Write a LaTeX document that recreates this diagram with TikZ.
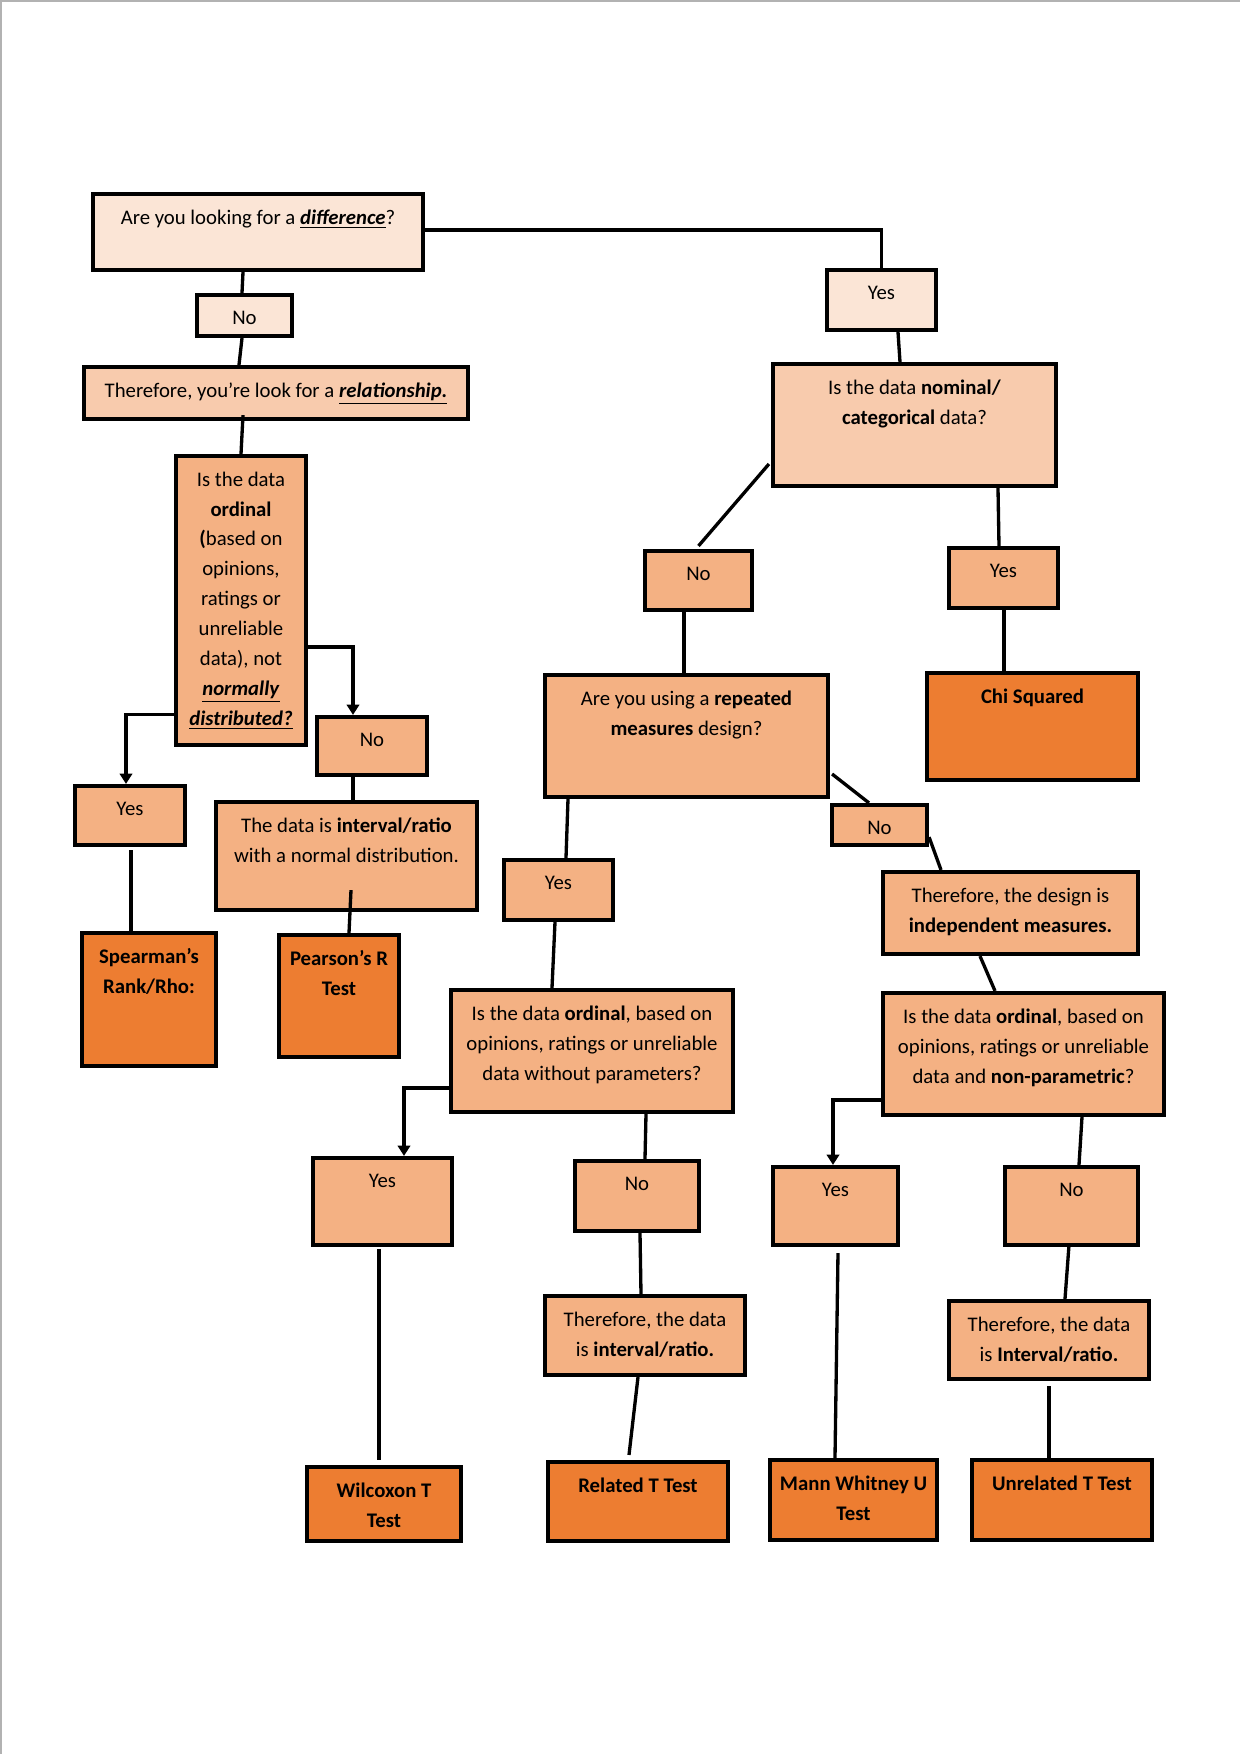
\documentclass[tikz,border=0pt]{standalone}
\usepackage{fontspec}
\setmainfont{Carlito}
\usepackage{xcolor}
\usetikzlibrary{arrows.meta,calc,fit}
\definecolor{peachA}{HTML}{FBE5D6}
\definecolor{peachB}{HTML}{F8CBAD}
\definecolor{peachC}{HTML}{F4B183}
\definecolor{orangeD}{HTML}{ED7D31}
\newcommand{\boxfont}{\fontsize{10}{14.4}\selectfont}
\newcommand{\keyword}[1]{\underline{\textbf{\textit{#1}}}}
\tikzset{
  every node/.style={font=\boxfont},
  qbox/.style={draw, rectangle, line width=2pt, inner sep=0pt},
  boxA/.style={qbox, fill=peachA},
  boxB/.style={qbox, fill=peachB},
  boxC/.style={qbox, fill=peachC},
  testbox/.style={qbox, fill=orangeD},
  txt/.style={anchor=north, align=center, inner sep=0pt, yshift=-8.4pt},
  testtxt/.style={txt, font=\boxfont\bfseries}
}

\begin{document}
\begin{tikzpicture}[
    x=0.16933mm, y=-0.16933mm, % one unit = one pixel of the page
    conn/.style={line width=1.6pt},
    arrow/.style={-{Triangle[width=6pt,length=5pt]}, line width=1.6pt}
]
\useasboundingbox (0,0) rectangle (1240,1754);
\draw[gray!60, line width=0.8pt] (1,1754) -- (1,1) -- (1240,1);

% 1. Start and the relationship branch
\node[boxA, fit={(93,194)(423,270)}, label={[txt]north:Are you looking for a \keyword{difference}?}] (diff) {};
\node[boxA, fit={(197,295)(292,336)}, label={[txt]north:No}] (noA) {};
\node[boxB, fit={(84,367)(468,419)}, label={[txt]north:Therefore, you're look for a \keyword{relationship.}}] (rel) {};
\node[boxC, fit={(176,456)(306,745)}, label={[txt]north:Is the data\\\textbf{ordinal}\\\textbf{(}based on\\opinions,\\ratings or\\unreliable\\data), not\\\keyword{normally}\\\keyword{distributed?}}] (ordA) {};
\node[boxC, fit={(75,786)(185,845)}, label={[txt]north:Yes}] (yesA) {};
\node[boxC, fit={(317,717)(427,775)}, label={[txt]north:No}] (noB) {};
\node[boxC, fit={(216,802)(477,910)}, label={[txt]north:The data is \textbf{interval/ratio}\\with a normal distribution.}] (interval) {};
\node[testbox, fit={(82,933)(216,1066)}, label={[testtxt]north:Spearman's\\Rank/Rho:}] (spear) {};
\node[testbox, fit={(279,935)(399,1057)}, label={[testtxt]north:Pearson's R\\Test}] (pears) {};

% 2. Difference branch
\node[boxA, fit={(827,270)(936,330)}, label={[txt]north:Yes}] (yesR) {};
\node[boxB, fit={(773,364)(1056,486)}, label={[txt]north:Is the data \textbf{nominal/}\\\textbf{categorical} data?}] (nominal) {};
\node[boxC, fit={(645,551)(752,610)}, label={[txt]north:No}] (noC) {};
\node[boxC, fit={(949,548)(1058,608)}, label={[txt]north:Yes}] (yesC) {};
\node[testbox, fit={(927,673)(1138,780)}, label={[testtxt]north:Chi Squared}] (chi) {};
\node[boxC, fit={(545,675)(828,797)}, label={[txt]north:Are you using a \textbf{repeated}\\\textbf{measures} design?}] (repeated) {};

% 3. Repeated measures
\node[boxC, fit={(504,860)(613,920)}, label={[txt]north:Yes}] (yesD) {};
\node[boxC, fit={(451,990)(733,1112)}, label={[txt]north:Is the data \textbf{ordinal}, based on\\opinions, ratings or unreliable\\data without parameters?}] (ordR) {};
\node[boxC, fit={(313,1158)(452,1245)}, label={[txt]north:Yes}] (yesE) {};
\node[boxC, fit={(575,1161)(699,1231)}, label={[txt]north:No}] (noE) {};
\node[boxC, fit={(545,1296)(745,1375)}, label={[txt]north:Therefore, the data\\is \textbf{interval/ratio.}}] (dataR) {};
\node[testbox, fit={(307,1467)(461,1541)}, label={[testtxt]north:Wilcoxon T\\Test}] (wilc) {};
\node[testbox, fit={(548,1462)(728,1541)}, label={[testtxt]north:Related T Test}] (relT) {};

% 4. Independent measures
\node[boxC, fit={(832,805)(927,845)}, label={[txt]north:No}] (noD) {};
\node[boxC, fit={(883,872)(1138,954)}, label={[txt]north:Therefore, the design is\\\textbf{independent measures.}}] (design) {};
\node[boxC, fit={(883,993)(1164,1115)}, label={[txt]north:Is the data \textbf{ordinal}, based on\\opinions, ratings or unreliable\\data and \textbf{non-parametric}?}] (ordI) {};
\node[boxC, fit={(773,1167)(898,1245)}, label={[txt]north:Yes}] (yesF) {};
\node[boxC, fit={(1005,1167)(1138,1245)}, label={[txt]north:No}] (noF) {};
\node[boxC, fit={(949,1301)(1149,1379)}, label={[txt]north:Therefore, the data\\is \textbf{Interval/ratio.}}] (dataU) {};
\node[testbox, fit={(770,1460)(937,1540)}, label={[testtxt]north:Mann Whitney U\\Test}] (mann) {};
\node[testbox, fit={(972,1460)(1152,1540)}, label={[testtxt]north:Unrelated T Test}] (unrT) {};

% 5. Connections
\draw[conn] ($(diff.south)+(-15,0)$) -- ($(noA.north)+(-2.5,0)$);
\draw[conn] ($(noA.south)+(-2.5,0)$) -- ($(rel.north)+(-37,0)$);
\draw[conn] ($(rel.south)+(-33,-6)$) -- (ordA.north);
\draw[arrow] ($(ordA.east)+(0,46.5)$) -| ($(noB.north)+(-19,0)$);
\draw[arrow] ($(ordA.west)+(0,114)$) -| ($(yesA.north)+(-4,0)$);
\draw[conn] ($(noB.south)+(-19,0)$) -- ($(interval.north)+(6.5,0)$);
\draw[conn] ($(yesA.south)+(1,3)$) -- ($(spear.north)+(-18,0)$);
\draw[conn] ($(interval.south)+(4.5,-22)$) -- ($(pears.north)+(10,0)$);

\draw[conn] ($(diff.east)+(0,-2)$) -| (yesR.north);
\draw[conn] ($(yesR.south)+(16.5,0)$) -- ($(nominal.north)+(-14.5,0)$);
\draw[conn] ($(nominal.west)+(-2,39)$) -- ($(noC.north)+(0,-3)$);
\draw[conn] ($(nominal.south)+(83.5,0)$) -- ($(yesC.north)+(-4.5,0)$);
\draw[conn] ($(yesC.south)+(0.5,0)$) -- ($(chi.north)+(-28.5,0)$);
\draw[conn] ($(noC.south)+(-14.5,0)$) -- ($(repeated.north)+(-2.5,0)$);

\draw[conn] ($(repeated.south)+(-118.5,0)$) -- ($(yesD.north)+(7.5,0)$);
\draw[conn] ($(yesD.south)+(-3.5,0)$) -- ($(ordR.north)+(-40,0)$);
\draw[arrow] ($(ordR.west)+(0,37)$) -| ($(yesE.north)+(21.5,0)$);
\draw[conn] ($(ordR.south)+(54,0)$) -- ($(noE.north)+(8,0)$);
\draw[conn] ($(noE.south)+(3,0)$) -- ($(dataR.north)+(-4,0)$);
\draw[conn] ($(yesE.south)+(-3.5,2)$) -- ($(wilc.north)+(-5,-5)$);
\draw[conn] ($(dataR.south)+(-7,0)$) -- ($(relT.north)+(-9,-5)$);

\draw[conn] ($(repeated.east)+(2,38)$) -- ($(noD.north)+(-10.5,0)$);
\draw[conn] ($(noD.south east)+(0,-10)$) -- ($(design.north)+(-69.5,0)$);
\draw[conn] ($(design.south)+(-30.5,0)$) -- ($(ordI.north)+(-28.5,0)$);
\draw[arrow] ($(ordI.west)+(0,46)$) -| ($(yesF.north)+(-2.5,0)$);
\draw[conn] ($(ordI.south)+(58.5,0)$) -- ($(noF.north)+(7.5,0)$);
\draw[conn] ($(noF.south)+(-2.5,-2)$) -- ($(dataU.north)+(16,0)$);
\draw[conn] ($(yesF.south)+(2.5,6)$) -- ($(mann.north)+(-18.5,0)$);
\draw[conn] ($(dataU.south)+(0,5)$) -- ($(unrT.north)+(-13,0)$);

\end{tikzpicture}
\end{document}
